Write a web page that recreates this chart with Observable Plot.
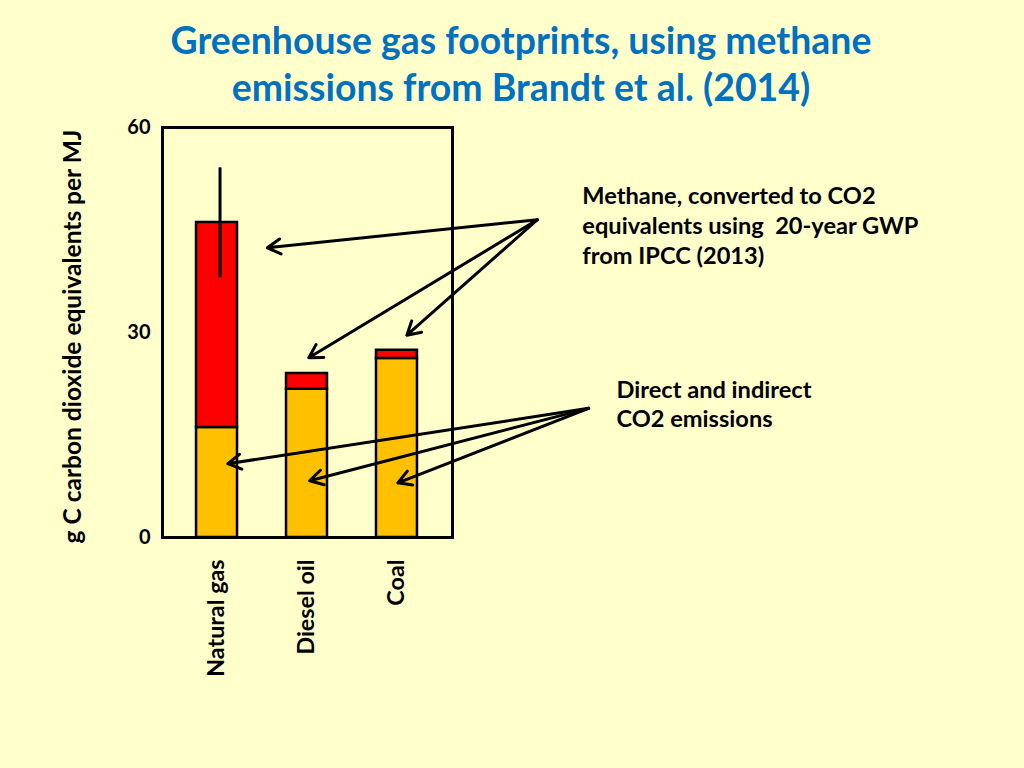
<!DOCTYPE html>
<html>
<head>
<meta charset="utf-8">
<script src="https://cdn.jsdelivr.net/npm/d3@7"></script>
<script src="https://cdn.jsdelivr.net/npm/@observablehq/plot@0.6"></script>
<style>
  html, body { margin: 0; padding: 0; background: #FFFFCC; }
  #wrap { position: relative; width: 1024px; height: 768px; overflow: hidden; background: #FFFFCC; }
  #title { position: absolute; top: 16px; left: 0; width: 1042px; text-align: center;
    font-family: Lato, "Open Sans", sans-serif; font-weight: bold; font-size: 37.4px; line-height: 47px; color: #0070C0; }
  svg.plot { position: absolute; top: 0; left: 0; }
</style>
</head>
<body>
<div id="wrap"></div>
<script>
// ---- data ----
const categories = ["Natural gas", "Diesel oil", "Coal"];
const directCO2 = [16.1, 21.7, 26.2];      // orange segment
const methaneCO2e = [30.0, 2.3, 1.2];      // red segment (stacked on top)
const ngErrorRange = [38.0, 54.1];         // error bar on natural gas total
const yTicks = [0, 30, 60];
const yAxisLabel = "g C carbon dioxide equivalents per MJ";
const methaneNote = "Methane, converted to CO2\nequivalents using  20-year GWP\nfrom IPCC (2013)";
const directNote = "Direct and indirect\nCO2 emissions";
// annotation anchors (x in category units, y in data units)
const methaneNoteAnchor = [5.56, 51.85];
const directNoteAnchor = [5.94, 23.6];
const methaneArrowFrom = [5.06, 46.5];
const methaneArrowTo = [[2.06, 42.4], [2.52, 26.3], [3.61, 29.6]];
const directArrowFrom = [5.63, 18.9];
const directArrowTo = [[1.62, 10.8], [2.53, 8.3], [3.51, 8.0]];

// ---- derived tables ----
const pos = categories.map((c, i) => i + 1.5);
const segments = [];
categories.forEach((c, i) => {
  segments.push({cat: c, x: pos[i], y1: 0, y2: directCO2[i], color: "#FFC000"});
  segments.push({cat: c, x: pos[i], y1: directCO2[i], y2: directCO2[i] + methaneCO2e[i], color: "#FF0000"});
});
const arrows = [
  ...methaneArrowTo.map(t => ({x1: methaneArrowFrom[0], y1: methaneArrowFrom[1], x2: t[0], y2: t[1]})),
  ...directArrowTo.map(t => ({x1: directArrowFrom[0], y1: directArrowFrom[1], x2: t[0], y2: t[1]}))
];

const font = "Lato, 'Open Sans', sans-serif";

const chart = Plot.plot({
  width: 1024,
  height: 768,
  marginLeft: 162,
  marginRight: 572,
  marginTop: 127,
  marginBottom: 231,
  x: {domain: [0.894, 4.117], axis: null},
  y: {domain: [0, 60], axis: null},
  style: {background: "transparent", fontFamily: font, fontWeight: "bold", color: "black", overflow: "visible"},
  marks: [
    Plot.rect(segments, {
      x1: d => d.x - 0.5, x2: d => d.x + 0.5, y1: "y1", y2: "y2",
      fill: "color", stroke: "black", strokeWidth: 2.5, insetLeft: 24.5, insetRight: 24.5
    }),
    Plot.ruleX([ngErrorRange], {x: () => pos[0], y1: d => d[0], y2: d => d[1], dx: 3, stroke: "black", strokeWidth: 3}),
    Plot.frame({stroke: "black", strokeWidth: 3}),
    Plot.text(yTicks, {y: d => d, text: d => String(d), frameAnchor: "left", dx: -12, textAnchor: "end", fontSize: 20, fontWeight: "bold", fill: "black"}),
    Plot.text(categories, {x: (d, i) => pos[i], y: () => 0, text: d => d, rotate: -90, textAnchor: "end", dy: 22, fontSize: 23.3, fontWeight: "bold", fill: "black"}),
    Plot.text([yAxisLabel], {frameAnchor: "left", text: d => d, rotate: -90, textAnchor: "middle", dx: -89, dy: 4, fontSize: 24.5, fontWeight: "bold", fill: "black"}),
    Plot.arrow(arrows, {x1: "x1", y1: "y1", x2: "x2", y2: "y2", stroke: "black", strokeWidth: 3, headLength: 7.5, bend: 0}),
    Plot.text([methaneNote], {x: () => methaneNoteAnchor[0], y: () => methaneNoteAnchor[1], text: d => d, textAnchor: "start", lineAnchor: "top", lineHeight: 1.27, fontSize: 23.6, fontWeight: "bold", fill: "black"}),
    Plot.text([directNote], {x: () => directNoteAnchor[0], y: () => directNoteAnchor[1], text: d => d, textAnchor: "start", lineAnchor: "top", lineHeight: 1.27, fontSize: 23.6, fontWeight: "bold", fill: "black"})
  ]
});

const wrap = document.getElementById("wrap");
wrap.appendChild(chart);
const title = document.createElement("div");
title.id = "title";
title.innerHTML = "Greenhouse gas footprints, using methane<br>emissions from Brandt et al. (2014)";
wrap.appendChild(title);
</script>
</body>
</html>
